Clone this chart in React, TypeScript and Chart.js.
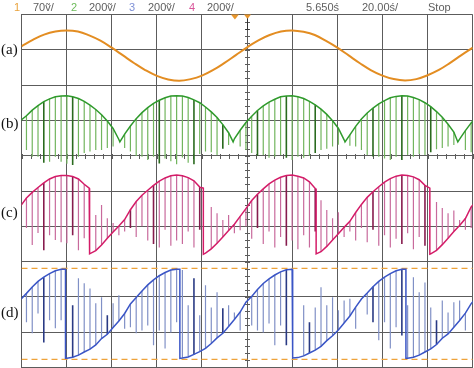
import React, { useEffect, useRef } from "react";
import { Chart, registerables } from "chart.js";

Chart.register(...registerables);

// ---- time axis (ms), 20 ms/div, 10 divisions ----
const SAMPLE_TIMES = [
  -0.36, 2.2, 4.76, 7.32, 9.88, 12.44, 15.0, 17.56, 20.12, 22.68,
  25.24, 27.8, 30.36, 32.92, 35.48, 38.04, 40.6, 43.16, 45.72, 48.28,
  50.84, 53.4, 55.96, 58.52, 61.08, 63.64, 66.2, 68.76, 71.32, 73.88,
  76.44, 79.0, 81.56, 84.12, 86.68, 89.24, 91.8, 94.36, 96.92, 99.48,
  102.04, 104.6, 107.16, 109.72, 112.28, 114.84, 117.4, 119.96, 122.52, 125.08,
  127.64, 130.2, 132.76, 135.32, 137.88, 140.44, 143.0, 145.56, 148.12, 150.68,
  153.24, 155.8, 158.36, 160.92, 163.48, 166.04, 168.6, 171.16, 173.72, 176.28,
  178.84, 181.4, 183.96, 186.52, 189.08, 191.64, 194.2, 196.76, 199.32, 201.88,
];

// ---- (a) orange sine (screen divisions) ----
const ORANGE_TIMES = [
  0, 5, 10, 15, 20, 25, 30, 35, 40, 45, 50, 55, 60, 65, 70, 75, 80, 85, 90, 95,
  100, 105, 110, 115, 120, 125, 130, 135, 140, 145, 150, 155, 160, 165, 170, 175, 180, 185, 190, 195, 200,
];
const ORANGE_VALUES = [
  9.1, 9.28, 9.43, 9.52, 9.55, 9.52, 9.41, 9.26, 9.06, 8.84,
  8.62, 8.42, 8.26, 8.16, 8.12, 8.17, 8.27, 8.43, 8.63, 8.85,
  9.07, 9.27, 9.42, 9.52, 9.55, 9.51, 9.42, 9.25, 9.06, 8.84,
  8.62, 8.42, 8.27, 8.17, 8.13, 8.17, 8.28, 8.43, 8.63, 8.85, 9.06,
];

// ---- (b) green ----
const GREEN_ENV = [
  7.0, 7.13, 7.29, 7.42, 7.53, 7.61, 7.67, 7.69, 7.7, 7.67,
  7.62, 7.54, 7.43, 7.31, 7.16, 6.98, 6.77, 6.46, 6.61, 6.84,
  7.05, 7.22, 7.36, 7.48, 7.57, 7.64, 7.69, 7.7, 7.69, 7.65,
  7.58, 7.5, 7.38, 7.24, 7.08, 6.88, 6.65, 6.48, 6.72, 6.94,
  7.12, 7.28, 7.41, 7.52, 7.6, 7.67, 7.69, 7.7, 7.67, 7.62,
  7.54, 7.44, 7.32, 7.17, 6.99, 6.78, 6.45, 6.59, 6.83, 7.04,
  7.21, 7.35, 7.47, 7.56, 7.64, 7.68, 7.7, 7.69, 7.65, 7.59,
  7.5, 7.39, 7.25, 7.09, 6.89, 6.67, 6.47, 6.71, 6.93, 7.11,
];
const GREEN_SPK: (number | null)[] = [
  null, 6.16, 5.97, 5.97, 5.8, 5.83, 5.97, 5.83, 5.77, 5.74,
  5.97, 6.08, 6.12, 6.16, 6.16, 6.22, 6.26, null, 6.22, 6.12,
  5.99, 5.97, 5.88, 5.97, 5.78, 5.92, 5.84, 5.76, 5.95, 5.8,
  5.76, 6.05, 6.12, 6.1, 6.02, 6.2, 6.3, null, 6.26, 6.16,
  6.08, 6.0, 6.02, 5.94, 5.97, 6.02, 5.94, 5.88, 5.97, 5.94,
  6.0, 6.08, 6.16, 6.2, 6.26, 6.31, null, 6.28, 6.26, 6.16,
  6.02, 5.98, 5.97, 5.92, 5.88, 5.97, 5.88, 6.02, 5.97, 6.05,
  6.02, 6.1, 6.18, 6.22, 6.26, 6.3, null, 6.16, 6.1, null,
];
const GREEN_DARK = [4, 9, 24, 30, 35, 41, 46, 51, 61, 66, 71];
const GREEN_KNOT_T = [43.6, 93.8, 143.4, 193.4];
const GREEN_KNOT_Y = [6.39, 6.39, 6.39, 6.39];

// ---- (c) magenta ----
const MAGENTA_ENV = [
  4.58, 4.8, 4.96, 5.1, 5.23, 5.34, 5.41, 5.44, 5.44, 5.41,
  5.34, 5.19, 3.22, 3.31, 3.47, 3.66, 3.84, 4.01, 4.19, 4.47,
  4.7, 4.88, 5.02, 5.16, 5.28, 5.37, 5.43, 5.45, 5.43, 5.38,
  5.29, 5.11, 3.24, 3.36, 3.52, 3.7, 3.88, 4.06, 4.28, 4.5,
  4.73, 4.91, 5.06, 5.2, 5.31, 5.39, 5.44, 5.45, 5.42, 5.37,
  5.26, 5.07, 3.28, 3.43, 3.61, 3.79, 3.97, 4.14, 4.39, 4.62,
  4.82, 4.98, 5.12, 5.25, 5.35, 5.42, 5.45, 5.44, 5.4, 5.32,
  5.16, 3.22, 3.32, 3.48, 3.66, 3.85, 4.02, 4.22, 4.55, 4.73,
];
const MAGENTA_SPK: (number | null)[] = [
  null, 3.95, 3.47, 3.81, 3.32, 3.75, 3.61, 3.55, 3.52, 3.75,
  3.32, 3.66, null, 4.32, 4.6, 4.23, 4.09, 3.75, 3.85, 3.95,
  3.7, 4.0, 3.6, 3.5, 3.4, 3.9, 3.45, 3.6, 3.5, 3.85,
  3.4, 3.9, null, 4.55, 4.37, 4.18, 4.32, 3.8, 3.89, 4.0,
  3.65, 3.95, 3.5, 3.85, 3.4, 3.7, 3.45, 3.6, 3.35, 3.75,
  3.4, 3.85, 4.74, 4.46, 4.23, 4.4, 3.7, 3.85, 3.6, 3.95,
  3.55, 3.9, 3.45, 3.75, 3.4, 3.65, 3.5, 3.8, 3.35, 3.7,
  3.45, null, 4.69, 4.52, 4.37, 4.45, 4.18, 3.9, 3.95, null,
];
const MAGENTA_DARK = [4, 9, 19, 23, 31, 41, 46, 51, 61, 66, 70];
const MAGENTA_KNOT_T = [30.0, 30.0, 80.6, 80.6, 130.6, 130.6, 181.0, 181.0];
const MAGENTA_KNOT_Y = [5.08, 3.21, 5.08, 3.21, 5.05, 3.22, 5.08, 3.21];

// ---- (d) blue ----
const BLUE_ENV = [
  1.93, 2.1, 2.28, 2.44, 2.56, 2.66, 2.74, 2.78, 0.26, 0.29,
  0.35, 0.44, 0.52, 0.64, 0.82, 0.94, 1.13, 1.32, 1.53, 1.8,
  1.98, 2.17, 2.34, 2.48, 2.6, 2.69, 2.76, 2.78, 0.27, 0.3,
  0.37, 0.45, 0.54, 0.68, 0.84, 0.97, 1.16, 1.36, 1.57, 1.85,
  2.01, 2.21, 2.38, 2.51, 2.62, 2.71, 2.77, 2.78, 0.28, 0.33,
  0.41, 0.49, 0.6, 0.76, 0.9, 1.06, 1.26, 1.46, 1.71, 1.94,
  2.11, 2.29, 2.44, 2.56, 2.66, 2.74, 2.78, 0.26, 0.29, 0.35,
  0.44, 0.53, 0.65, 0.83, 0.95, 1.14, 1.33, 1.54, 1.81, 1.99,
];
const BLUE_SPK: (number | null)[] = [
  null, 1.28, 0.97, 1.53, 0.71, 1.34, 1.11, 1.34, null, 1.76,
  2.53, 2.39, 2.24, 1.82, 1.99, 1.48, 1.82, 2.05, 1.1, 1.14,
  0.97, 1.05, 1.19, 0.63, 1.05, 0.54, 0.99, 1.28, 2.76, 1.76,
  2.53, 1.48, 2.33, 1.7, 2.13, 1.68, 1.76, 1.56, 1.05, null,
  1.19, 1.05, 0.99, 1.25, 0.63, 1.19, 0.63, null, null, 1.76,
  1.28, 1.7, 2.27, 1.76, 1.99, 1.62, 1.9, 1.95, 1.1, null,
  1.5, 1.28, 0.77, 1.28, 0.54, 1.14, 0.91, 1.76, 2.56, 2.13,
  2.41, 1.7, 1.34, 1.9, 1.56, 1.85, 1.9, 1.05, null, null,
];
const BLUE_DARK = [4, 9, 15, 30, 35, 46, 50, 61, 66, 72];
const BLUE_KNOT_T = [19.5, 19.5, 70.2, 70.2, 120.2, 120.2, 170.4, 170.4];
const BLUE_KNOT_Y = [2.78, 0.26, 2.78, 0.26, 2.78, 0.27, 2.78, 0.26];

// ---- cursors (orange dashed), graticule tick lines, markers ----
const CURSOR_LEVELS = [2.81, 0.23];
const TICKED_TIME = 100;
const TICKED_LEVEL = 6;
const MARKER_TIME = 94.6;
const TRIGGER_TIME = 100;

const HEADER_TEXT = ["1", "70ṽ/", "2", "200ṽ/", "3", "200ṽ/", "4", "200ṽ/", "5.650ś", "20.00ś/", "Stop"];
const TRACE_LABELS = ["(a)", "(b)", "(c)", "(d)"];

type Pt = { x: number; y: number | null };

function envelope(values: number[], knotT: number[], knotY: number[]): Pt[] {
  const pts: Pt[] = SAMPLE_TIMES.map((t, i) => ({ x: t, y: values[i] }));
  knotT.forEach((t, k) => pts.push({ x: t, y: knotY[k] }));
  return pts.sort((a, b) => a.x - b.x);
}

function spikes(env: number[], ends: (number | null)[], dark: number[], wantDark: boolean): Pt[] {
  const pts: Pt[] = [];
  ends.forEach((e, i) => {
    if (e === null) return;
    if (dark.includes(i) !== wantDark) return;
    const t = SAMPLE_TIMES[i];
    pts.push({ x: t, y: env[i] }, { x: t, y: e }, { x: t, y: null });
  });
  return pts;
}

const GRID = "#5c5c5c";

const scopePlugin = {
  id: "scopeGraticule",
  beforeDatasetsDraw(chart: any) {
    const { ctx, scales } = chart;
    const x = scales.x;
    const y = scales.y;
    ctx.save();
    ctx.strokeStyle = GRID;
    ctx.lineWidth = 1;
    ctx.beginPath();
    const cx = Math.round(x.getPixelForValue(TICKED_TIME)) + 0.5;
    for (let k = 0; k <= 50; k++) {
      const py = Math.round(y.getPixelForValue(k * 0.2)) + 0.5;
      ctx.moveTo(cx - 2.5, py);
      ctx.lineTo(cx + 2.5, py);
    }
    const cy = Math.round(y.getPixelForValue(TICKED_LEVEL)) + 0.5;
    for (let k = 0; k <= 50; k++) {
      const px = Math.round(x.getPixelForValue(k * 4)) + 0.5;
      ctx.moveTo(px, cy - 2.5);
      ctx.lineTo(px, cy + 2.5);
    }
    ctx.stroke();
    ctx.restore();
  },
  afterDraw(chart: any) {
    const { ctx, scales, chartArea } = chart;
    const x = scales.x;
    const top = chartArea.top;
    ctx.save();
    // orange position marker
    const mx = x.getPixelForValue(MARKER_TIME);
    ctx.fillStyle = "#e8962c";
    ctx.beginPath();
    ctx.moveTo(mx - 4, top);
    ctx.lineTo(mx + 4, top);
    ctx.lineTo(mx, top + 5);
    ctx.closePath();
    ctx.fill();
    // trigger marker
    const tx = Math.round(x.getPixelForValue(TRIGGER_TIME)) + 0.5;
    ctx.beginPath();
    ctx.moveTo(tx - 3.5, top);
    ctx.lineTo(tx + 3.5, top);
    ctx.lineTo(tx, top + 4.5);
    ctx.closePath();
    ctx.fill();
    ctx.strokeStyle = "#333";
    ctx.lineWidth = 1;
    ctx.beginPath();
    ctx.moveTo(tx, top + 4);
    ctx.lineTo(tx, top + 15);
    ctx.moveTo(tx - 2, top + 15);
    ctx.lineTo(tx + 2, top + 15);
    ctx.stroke();
    ctx.restore();
  },
};

export default function App() {
  const ref = useRef<HTMLCanvasElement | null>(null);

  useEffect(() => {
    if (!ref.current) return;
    const line = (data: Pt[], color: string, width: number, extra: any = {}) => ({
      type: "line" as const,
      data,
      borderColor: color,
      borderWidth: width,
      pointRadius: 0,
      fill: false,
      tension: 0,
      spanGaps: false,
      borderCapStyle: "butt",
      ...extra,
    });

    const datasets: any[] = [
      line(
        ORANGE_TIMES.map((t, i) => ({ x: t, y: ORANGE_VALUES[i] })),
        "#e38d22",
        2,
        { tension: 0.4 }
      ),
      line(envelope(GREEN_ENV, GREEN_KNOT_T, GREEN_KNOT_Y), "#2f9a2c", 1.5),
      line(envelope(MAGENTA_ENV, MAGENTA_KNOT_T, MAGENTA_KNOT_Y), "#d41c68", 1.5),
      line(envelope(BLUE_ENV, BLUE_KNOT_T, BLUE_KNOT_Y), "#3a55c6", 1.5),
      ...CURSOR_LEVELS.map((lv) =>
        line([{ x: 0, y: lv }, { x: 200, y: lv }], "#eea23a", 1.2, { borderDash: [6, 4] })
      ),
      line(spikes(GREEN_ENV, GREEN_SPK, GREEN_DARK, true), "#2a6a1e", 1.6),
      line(spikes(GREEN_ENV, GREEN_SPK, GREEN_DARK, false), "#72b55e", 1.2),
      line(spikes(MAGENTA_ENV, MAGENTA_SPK, MAGENTA_DARK, true), "#871c4e", 1.6),
      line(spikes(MAGENTA_ENV, MAGENTA_SPK, MAGENTA_DARK, false), "#c86a9c", 1.2),
      line(spikes(BLUE_ENV, BLUE_SPK, BLUE_DARK, true), "#2a3a84", 1.6),
      line(spikes(BLUE_ENV, BLUE_SPK, BLUE_DARK, false), "#8090c6", 1.2),
    ];

    const chart = new Chart(ref.current, {
      type: "line",
      data: { datasets },
      plugins: [scopePlugin],
      options: {
        responsive: false,
        animation: false,
        events: [],
        layout: { padding: { left: 21.5, right: 1.3, top: 14.5, bottom: 0.5 } },
        plugins: { legend: { display: false }, tooltip: { enabled: false } },
        scales: {
          x: {
            type: "linear",
            min: 0,
            max: 200,
            ticks: { display: false, stepSize: 20 },
            grid: { color: GRID, lineWidth: 1, drawTicks: false },
            border: { color: GRID, width: 1 },
          },
          y: {
            type: "linear",
            min: 0,
            max: 10,
            ticks: { display: false, stepSize: 1 },
            grid: { color: GRID, lineWidth: 1, drawTicks: false },
            border: { color: GRID, width: 1 },
          },
        },
      } as any,
    });
    return () => chart.destroy();
  }, []);

  const headerLeft = [14, 33, 71, 89, 129, 148, 189, 207, 306, 362, 428];
  const headerColor = ["#e9a23b", "#5e5e5e", "#6dbb5a", "#5e5e5e", "#7d8fd6", "#5e5e5e", "#d9579a", "#5e5e5e", "#5e5e5e", "#5e5e5e", "#5e5e5e"];
  const labelTop = [40, 114, 203, 303];

  return (
    <div style={{ position: "absolute", left: 0, top: 0, width: 474, height: 368, background: "#fff", overflow: "hidden" }}>
      <canvas ref={ref} width={474} height={368} style={{ position: "absolute", left: 0, top: 0 }} />
      {HEADER_TEXT.map((t, i) => (
        <span
          key={"h" + i}
          style={{
            position: "absolute",
            left: headerLeft[i],
            top: 0,
            font: "11px 'Liberation Sans', Arial, sans-serif",
            lineHeight: "14px",
            color: headerColor[i],
            whiteSpace: "nowrap",
          }}
        >
          {t}
        </span>
      ))}
      {TRACE_LABELS.map((t, i) => (
        <span
          key={"l" + i}
          style={{
            position: "absolute",
            left: 1,
            top: labelTop[i],
            font: "15px 'Liberation Serif', 'Times New Roman', serif",
            lineHeight: "18px",
            color: "#111",
            whiteSpace: "nowrap",
          }}
        >
          {t}
        </span>
      ))}
    </div>
  );
}
